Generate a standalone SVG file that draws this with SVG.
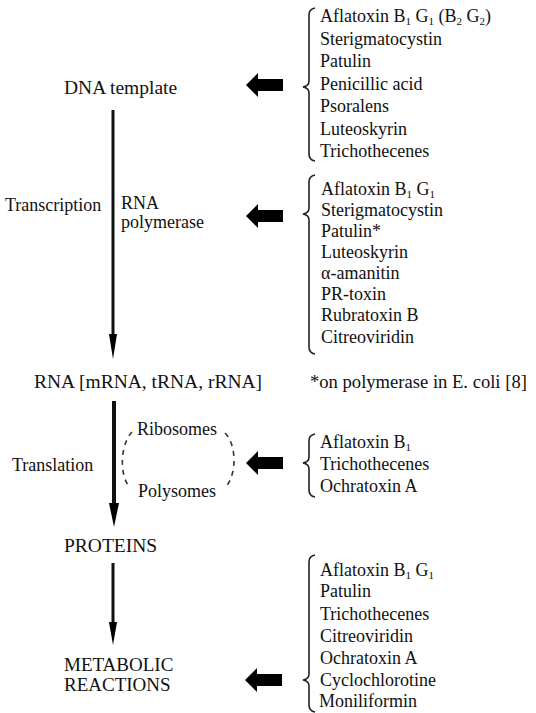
<svg xmlns="http://www.w3.org/2000/svg" width="536" height="713" viewBox="0 0 536 713">
<style>
text{font-family:'Liberation Serif','DejaVu Serif',serif;fill:#111}
.main{font-size:19.5px}
.lbl{font-size:18px}
.lst{font-size:18px}
.sub{font-size:11px}
.brace{fill:none;stroke:#222;stroke-width:1.6}
.vline{stroke:#111;stroke-width:3}
.dash{fill:none;stroke:#333;stroke-width:1.6;stroke-dasharray:5 5}
.blk{fill:#000}
</style>
<rect width="536" height="713" fill="#fff"/>
<g id="connectors">
  <line class="vline" x1="113" y1="110" x2="113" y2="338"/>
  <polygon class="blk" points="109,334 117,334 113,359"/>
  <line class="vline" x1="114" y1="401" x2="114" y2="507" style="stroke-width:4"/>
  <polygon class="blk" points="109,503 119,503 114,527"/>
  <line class="vline" x1="113" y1="563" x2="113" y2="626"/>
  <polygon class="blk" points="109,622 117,622 113,645"/>
  <path class="dash" d="M132 432 C120 445,119 475,130 488"/>
  <path class="dash" d="M225 433 C237 445,237 475,225 488"/>
  <polygon class="blk" points="246,85 258,73 258,79 283,79 283,91 258,91 258,97"/>
  <polygon class="blk" points="246,216 258,204 258,210 283,210 283,222 258,222 258,228"/>
  <polygon class="blk" points="246,463 258,451 258,457 283,457 283,469 258,469 258,475"/>
  <polygon class="blk" points="245,680 257,668 257,674 282,674 282,686 257,686 257,692"/>
</g>
<g id="dna"><text class="main" x="64" y="94">DNA template</text></g>
<g id="transcription">
  <text class="lbl" x="5" y="211">Transcription</text>
  <text class="lbl" x="121" y="209">RNA</text>
  <text class="lbl" x="121" y="228">polymerase</text>
</g>
<g id="rna"><text class="main" x="34" y="388">RNA [mRNA, tRNA, rRNA]</text></g>
<g id="note"><text class="main" x="310" y="388" style="font-size:18.6px">*on polymerase in E. coli [8]</text></g>
<g id="translation">
  <text class="lbl" x="12" y="471">Translation</text>
  <text class="lbl" x="137" y="435">Ribosomes</text>
  <text class="lbl" x="138" y="497">Polysomes</text>
</g>
<g id="proteins"><text class="main" x="64" y="552">PROTEINS</text></g>
<g id="metabolic">
  <text class="main" x="64" y="671" style="font-size:19px">METABOLIC</text>
  <text class="main" x="64" y="691" style="font-size:19px">REACTIONS</text>
</g>
<g id="list1">
  <path class="brace" d="M315 8 Q309 9 309 15 L309 81 Q309 86 303 87 Q309 88 309 93 L309 154 Q309 160 315 161"/>
  <text class="lst" x="320" y="22">Aflatoxin B<tspan class="sub" dy="3">1</tspan><tspan dy="-3"> G</tspan><tspan class="sub" dy="3">1</tspan><tspan dy="-3"> (B</tspan><tspan class="sub" dy="3">2</tspan><tspan dy="-3"> G</tspan><tspan class="sub" dy="3">2</tspan><tspan dy="-3">)</tspan></text>
  <text class="lst" x="320" y="45">Sterigmatocystin</text>
  <text class="lst" x="320" y="67">Patulin</text>
  <text class="lst" x="320" y="90">Penicillic acid</text>
  <text class="lst" x="320" y="112">Psoralens</text>
  <text class="lst" x="320" y="135">Luteoskyrin</text>
  <text class="lst" x="320" y="157">Trichothecenes</text>
</g>
<g id="list2">
  <path class="brace" d="M315 175 Q309 176 309 182 L309 208 Q309 213 303 214 Q309 215 309 220 L309 347 Q309 353 315 354"/>
  <text class="lst" x="321" y="195">Aflatoxin B<tspan class="sub" dy="3">1</tspan><tspan dy="-3"> G</tspan><tspan class="sub" dy="3">1</tspan></text>
  <text class="lst" x="321" y="216">Sterigmatocystin</text>
  <text class="lst" x="321" y="237">Patulin*</text>
  <text class="lst" x="321" y="258">Luteoskyrin</text>
  <text class="lst" x="321" y="279">α-amanitin</text>
  <text class="lst" x="321" y="300">PR-toxin</text>
  <text class="lst" x="321" y="321">Rubratoxin B</text>
  <text class="lst" x="321" y="343">Citreoviridin</text>
</g>
<g id="list3">
  <path class="brace" d="M315 434 Q309 435 309 441 L309 457 Q309 462 303 463 Q309 464 309 469 L309 490 Q309 496 315 497"/>
  <text class="lst" x="320" y="448">Aflatoxin B<tspan class="sub" dy="3">1</tspan></text>
  <text class="lst" x="320" y="470">Trichothecenes</text>
  <text class="lst" x="320" y="492">Ochratoxin A</text>
</g>
<g id="list4">
  <path class="brace" d="M315 555 Q309 556 309 562 L309 674 Q309 679 303 680 Q309 681 309 686 L309 705 Q309 711 315 712"/>
  <text class="lst" x="320" y="576">Aflatoxin B<tspan class="sub" dy="3">1</tspan><tspan dy="-3"> G</tspan><tspan class="sub" dy="3">1</tspan></text>
  <text class="lst" x="320" y="597">Patulin</text>
  <text class="lst" x="320" y="620">Trichothecenes</text>
  <text class="lst" x="320" y="642">Citreoviridin</text>
  <text class="lst" x="320" y="664">Ochratoxin A</text>
  <text class="lst" x="320" y="686">Cyclochlorotine</text>
  <text class="lst" x="319" y="707">Moniliformin</text>
</g>
</svg>
